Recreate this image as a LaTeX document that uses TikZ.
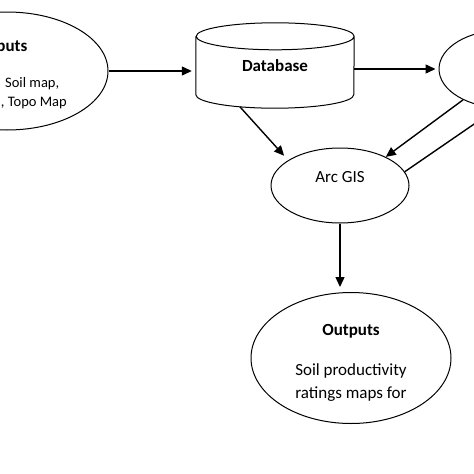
\documentclass[tikz,border=0pt]{standalone}
\usepackage{fontspec}
\setmainfont{Carlito}
\usetikzlibrary{arrows.meta}
\usetikzlibrary{shapes.geometric}
\usetikzlibrary{calc}

\begin{document}
\begin{tikzpicture}[x=1pt,y=-1pt]
	\tikzset{blob/.style={shape = ellipse, draw, line width = 1pt, inner sep = 0pt}}
	\tikzset{flow/.style={-{Triangle[length=10pt, width=9pt]}, line width = 1.4pt}}
	\tikzset{big/.style={font=\fontsize{17}{22}\selectfont}}
	\tikzset{small/.style={font=\fontsize{14.5}{18}\selectfont, inner sep = 0pt}}
	\useasboundingbox (0,0) rectangle (474,474);
	%vertices
	\node[blob, minimum width = 202pt, minimum height = 118pt] (in) at (7, 71) {};
	\node[big, inner sep = 0pt, anchor = east] (intitle) at (27.5, 47) {\bfseries Inputs};
	\node[small, anchor = west] (inline1) at (5, 84) {Soil map,};
	\node[small, anchor = east] (inline2) at (67, 103) {, Topo Map};
	\node[big, minimum width = 158pt, minimum height = 58pt] (db) at (275, 65.5) {\bfseries Database};
	\draw[line width = 1pt] (db.north west) -- (db.south west)
		arc[start angle = 180, end angle = 360, x radius = 79pt, y radius = 13.5pt] -- (db.north east)
		arc[start angle = 0, end angle = 360, x radius = 79pt, y radius = 13.5pt];
	\coordinate (dbfoot) at ($(db.south) + (-35, 12.2)$);
	\node[blob, minimum width = 130pt, minimum height = 78pt] (eval) at (504, 69) {};
	\node[blob, minimum width = 138pt, minimum height = 75pt] (gis) at (340, 185.5) {};
	\node[big] (gistext) at (340, 177) {Arc GIS};
	\node[blob, minimum width = 200pt, minimum height = 131pt] (out) at (351, 358) {};
	\node[big, align = center] (outtext) at (351, 362.5)
		{\bfseries Outputs\\[18pt]Soil productivity\\[1pt]ratings maps for};
	%edges
	\draw[flow, shorten >= 4pt] (in.east) -- (in.east -| db.west);
	\draw[flow, shorten >= 3pt] (db.east |- eval.west) -- (eval.west);
	\draw[flow, shorten >= 6pt] (dbfoot) -- (gis.154);
	\draw[flow] (eval.217) -- (gis.32);
	\draw[flow] (gis.12) -- (eval.260);
	\draw[flow, shorten >= 5pt] (gis.south) -- (gis.south |- out.north);
\end{tikzpicture}
\end{document}
